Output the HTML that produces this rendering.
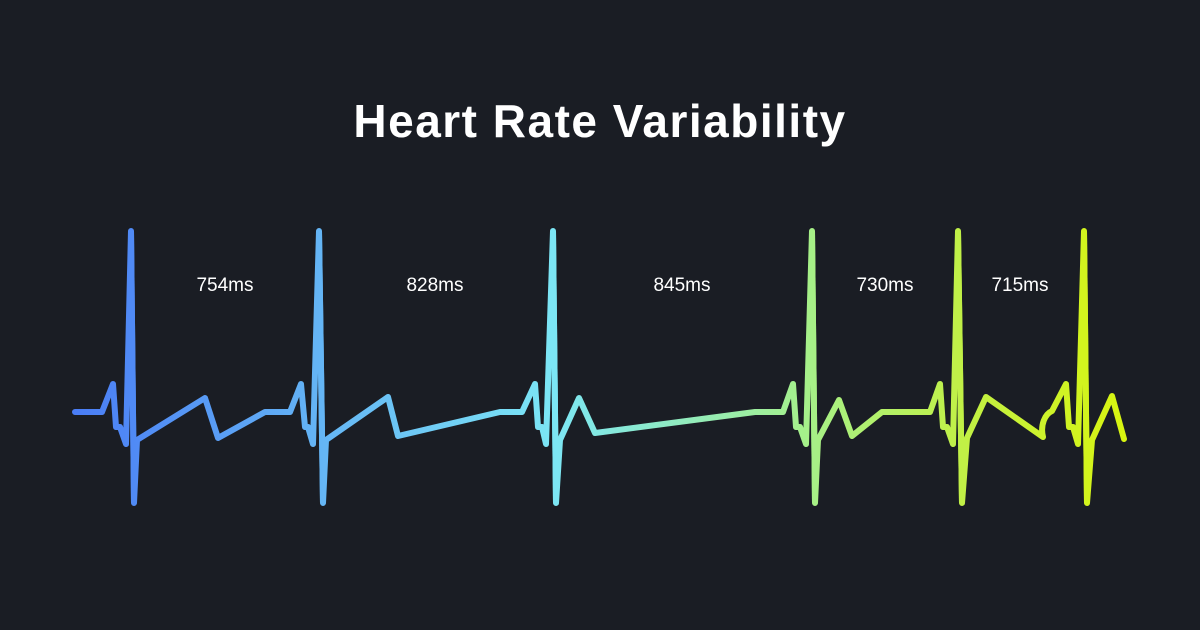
<!DOCTYPE html>
<html><head><meta charset="utf-8"><style>
html,body{margin:0;padding:0;background:#1a1d24;}
svg{display:block}
</style></head><body>
<svg width="1200" height="630" viewBox="0 0 1200 630" xmlns="http://www.w3.org/2000/svg">
<defs>
<linearGradient id="g" gradientUnits="userSpaceOnUse" x1="75" y1="0" x2="1125" y2="0">
<stop offset="0" stop-color="#4a7df5"/>
<stop offset="0.23" stop-color="#64b4f5"/>
<stop offset="0.455" stop-color="#7ce6f5"/>
<stop offset="0.70" stop-color="#a6f088"/>
<stop offset="0.84" stop-color="#c0f048"/>
<stop offset="1" stop-color="#d8f510"/>
</linearGradient>
</defs>
<rect width="1200" height="630" fill="#1a1d24"/>
<text x="600" y="137" text-anchor="middle" font-family="Liberation Sans, sans-serif" font-weight="bold" font-size="46" letter-spacing="1.5" fill="#ffffff">Heart Rate Variability</text>
<g font-family="Liberation Sans, sans-serif" font-size="19" fill="#ffffff" text-anchor="middle">
<text x="225" y="291">754ms</text>
<text x="435" y="291">828ms</text>
<text x="682" y="291">845ms</text>
<text x="885" y="291">730ms</text>
<text x="1020" y="291">715ms</text>
</g>
<path fill="none" stroke="url(#g)" stroke-width="6" stroke-linejoin="round" stroke-linecap="round"
d="M75,412 L102,412 L113,384 L116,427 L120,427 L126,444 L131,231 L134,503 L137,440 L205,398 L218,438 L265,412 L290,412 L301,384 L305,427 L308,427 L313,444 L319,231 L323,503 L326,440 L388,397 L398,436 L500,412 L522,412 L535,384 L538,427 L542,427 L546,444 L553,231 L556,503 L560,440 L579,398 L595,433 L755,412 L783,412 L793,384 L796,427 L800,427 L806,444 L812,231 L815,503 L818,440 L839,400 L852,436 L882,412 L930,412 L940,384 L943,427 L947,427 L953,444 L958,231 L962,503 L967,438 L986,397 L1043,437 C1040,425 1045,414 1052,411 L1066,384 L1069,427 L1073,427 L1078,444 L1084,231 L1087,503 L1092,440 L1112,396 L1124,439"/>
<g fill="url(#g)">
<polygon points="128,231 134,231 137,503 131,503"/>
<polygon points="316,231 322,231 326,503 320,503"/>
<polygon points="550,231 556,231 559,503 553,503"/>
<polygon points="809,231 815,231 818,503 812,503"/>
<polygon points="955,231 961,231 965,503 959,503"/>
<polygon points="1081,231 1087,231 1090,503 1084,503"/>
</g>
</svg>
</body></html>
